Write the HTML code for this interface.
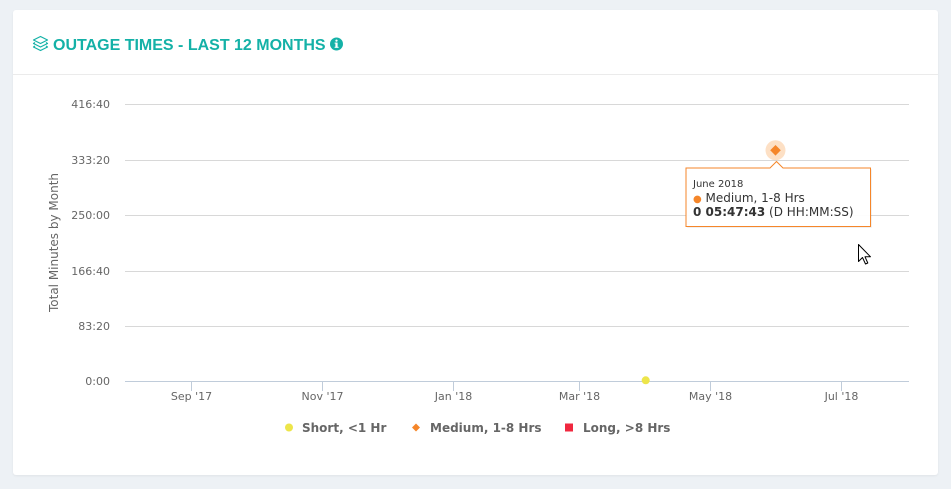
<!DOCTYPE html>
<html><head><meta charset="utf-8"><style>
html,body{margin:0;padding:0;width:951px;height:489px;background:#edf1f5;overflow:hidden}
.card{position:absolute;left:13px;top:10px;width:925px;height:465px;background:#fff;border-radius:3px;box-shadow:0 1px 2px rgba(0,0,0,0.06)}
svg{position:absolute;left:0;top:0}
</style></head><body>
<div class="card"></div>
<svg width="951" height="489" viewBox="0 0 951 489" xmlns="http://www.w3.org/2000/svg">
<!-- header separator -->
<line x1="13" y1="74.5" x2="938" y2="74.5" stroke="#ebebeb" stroke-width="1"/>
<!-- layers icon -->
<g fill="none" stroke="#14b1a7" stroke-width="1.2" stroke-linejoin="round">
<path d="M40.5 36.5 L47.5 40 L40.5 43.5 L33.5 40 Z"/>
<path d="M35 42.5 L33.5 43.5 L40.5 47 L47.5 43.5 L46 42.5"/>
<path d="M35 46 L33.5 47 L40.5 50.5 L47.5 47 L46 46"/>
</g>
<text x="53" y="50" font-family="Liberation Sans, Arial, sans-serif" font-weight="bold" font-size="16" fill="#14b1a7">OUTAGE TIMES - LAST 12 MONTHS</text>
<circle cx="336.5" cy="44" r="6.5" fill="#14b1a7"/>
<circle cx="336.5" cy="40.6" r="1.1" fill="#fff"/>
<rect x="335.4" y="42.6" width="2.2" height="5" fill="#fff"/>
<rect x="334.6" y="42.6" width="2" height="1" fill="#fff"/>
<rect x="334.6" y="46.8" width="4" height="1" fill="#fff"/>
<!-- gridlines -->
<g stroke="#d8d8d8" stroke-width="1">
<line x1="125" y1="104.5" x2="909" y2="104.5"/>
<line x1="125" y1="160.5" x2="909" y2="160.5"/>
<line x1="125" y1="215.5" x2="909" y2="215.5"/>
<line x1="125" y1="271.5" x2="909" y2="271.5"/>
<line x1="125" y1="326.5" x2="909" y2="326.5"/>
</g>
<line x1="125" y1="381.5" x2="909" y2="381.5" stroke="#c0ccda" stroke-width="1"/>
<g stroke="#c0ccda" stroke-width="1">
<line x1="191.5" y1="381" x2="191.5" y2="391"/>
<line x1="322.5" y1="381" x2="322.5" y2="391"/>
<line x1="453.5" y1="381" x2="453.5" y2="391"/>
<line x1="579.5" y1="381" x2="579.5" y2="391"/>
<line x1="710.5" y1="381" x2="710.5" y2="391"/>
<line x1="841.5" y1="381" x2="841.5" y2="391"/>
</g>
<!-- y labels -->
<g font-family="DejaVu Sans, Verdana, sans-serif" font-size="11" fill="#666" text-anchor="end">
<text x="110" y="108">416:40</text>
<text x="110" y="164">333:20</text>
<text x="110" y="219">250:00</text>
<text x="110" y="275">166:40</text>
<text x="110" y="330">83:20</text>
<text x="110" y="385">0:00</text>
</g>
<text transform="translate(58,242.5) rotate(-90)" font-family="DejaVu Sans, Verdana, sans-serif" font-size="12" fill="#666" text-anchor="middle">Total Minutes by Month</text>
<!-- x labels -->
<g font-family="DejaVu Sans, Verdana, sans-serif" font-size="11" fill="#666" text-anchor="middle">
<text x="191.5" y="400">Sep '17</text>
<text x="322.5" y="400">Nov '17</text>
<text x="453.5" y="400">Jan '18</text>
<text x="579.5" y="400">Mar '18</text>
<text x="710.5" y="400">May '18</text>
<text x="841.5" y="400">Jul '18</text>
</g>
<!-- points -->
<circle cx="645.7" cy="380.3" r="4" fill="#ede54a"/>
<circle cx="775.5" cy="150.3" r="10" fill="#f8a65a" fill-opacity="0.35"/>
<path d="M775.5 145 L780.8 150.3 L775.5 155.6 L770.2 150.3 Z" fill="#f5862a"/>
<!-- tooltip -->
<g>
<rect x="687" y="169" width="185" height="59" rx="1" fill="#000" fill-opacity="0.06"/>
<path d="M686 168 L770 168 L776.5 161.5 L783 168 L870.5 168 L870.5 226.5 L686 226.5 Z" fill="#fff" fill-opacity="0.96" stroke="#f5862a" stroke-width="1"/>
<text x="693" y="187" font-family="DejaVu Sans, Verdana, sans-serif" font-size="10" fill="#333">June 2018</text>
<text x="693" y="202" font-family="DejaVu Sans, Verdana, sans-serif" font-size="12" fill="#333"><tspan fill="#f5862a" font-size="10">●</tspan> Medium, 1-8 Hrs</text>
<text x="693" y="216" font-family="DejaVu Sans, Verdana, sans-serif" font-size="12" fill="#333"><tspan font-weight="bold">0 05:47:43</tspan> (D HH:MM:SS)</text>
</g>
<!-- cursor -->
<path d="M858.5 244.5 L858.5 261.5 L862.5 257.5 L865.5 264 L867.8 263 L865 256.8 L870.5 256.8 Z" fill="#fff" stroke="#000" stroke-width="1" stroke-linejoin="round"/>
<!-- legend -->
<circle cx="289" cy="427.5" r="4" fill="#ede54a"/>
<text x="302" y="432" font-family="DejaVu Sans, Verdana, sans-serif" font-size="12" font-weight="bold" fill="#666">Short, &lt;1 Hr</text>
<path d="M416 423.5 L420 427.5 L416 431.5 L412 427.5 Z" fill="#f5862a"/>
<text x="430" y="432" font-family="DejaVu Sans, Verdana, sans-serif" font-size="12" font-weight="bold" fill="#666">Medium, 1-8 Hrs</text>
<rect x="565" y="423.5" width="8" height="8" fill="#f0283f"/>
<text x="583" y="432" font-family="DejaVu Sans, Verdana, sans-serif" font-size="12" font-weight="bold" fill="#666">Long, &gt;8 Hrs</text>
</svg>
</body></html>
